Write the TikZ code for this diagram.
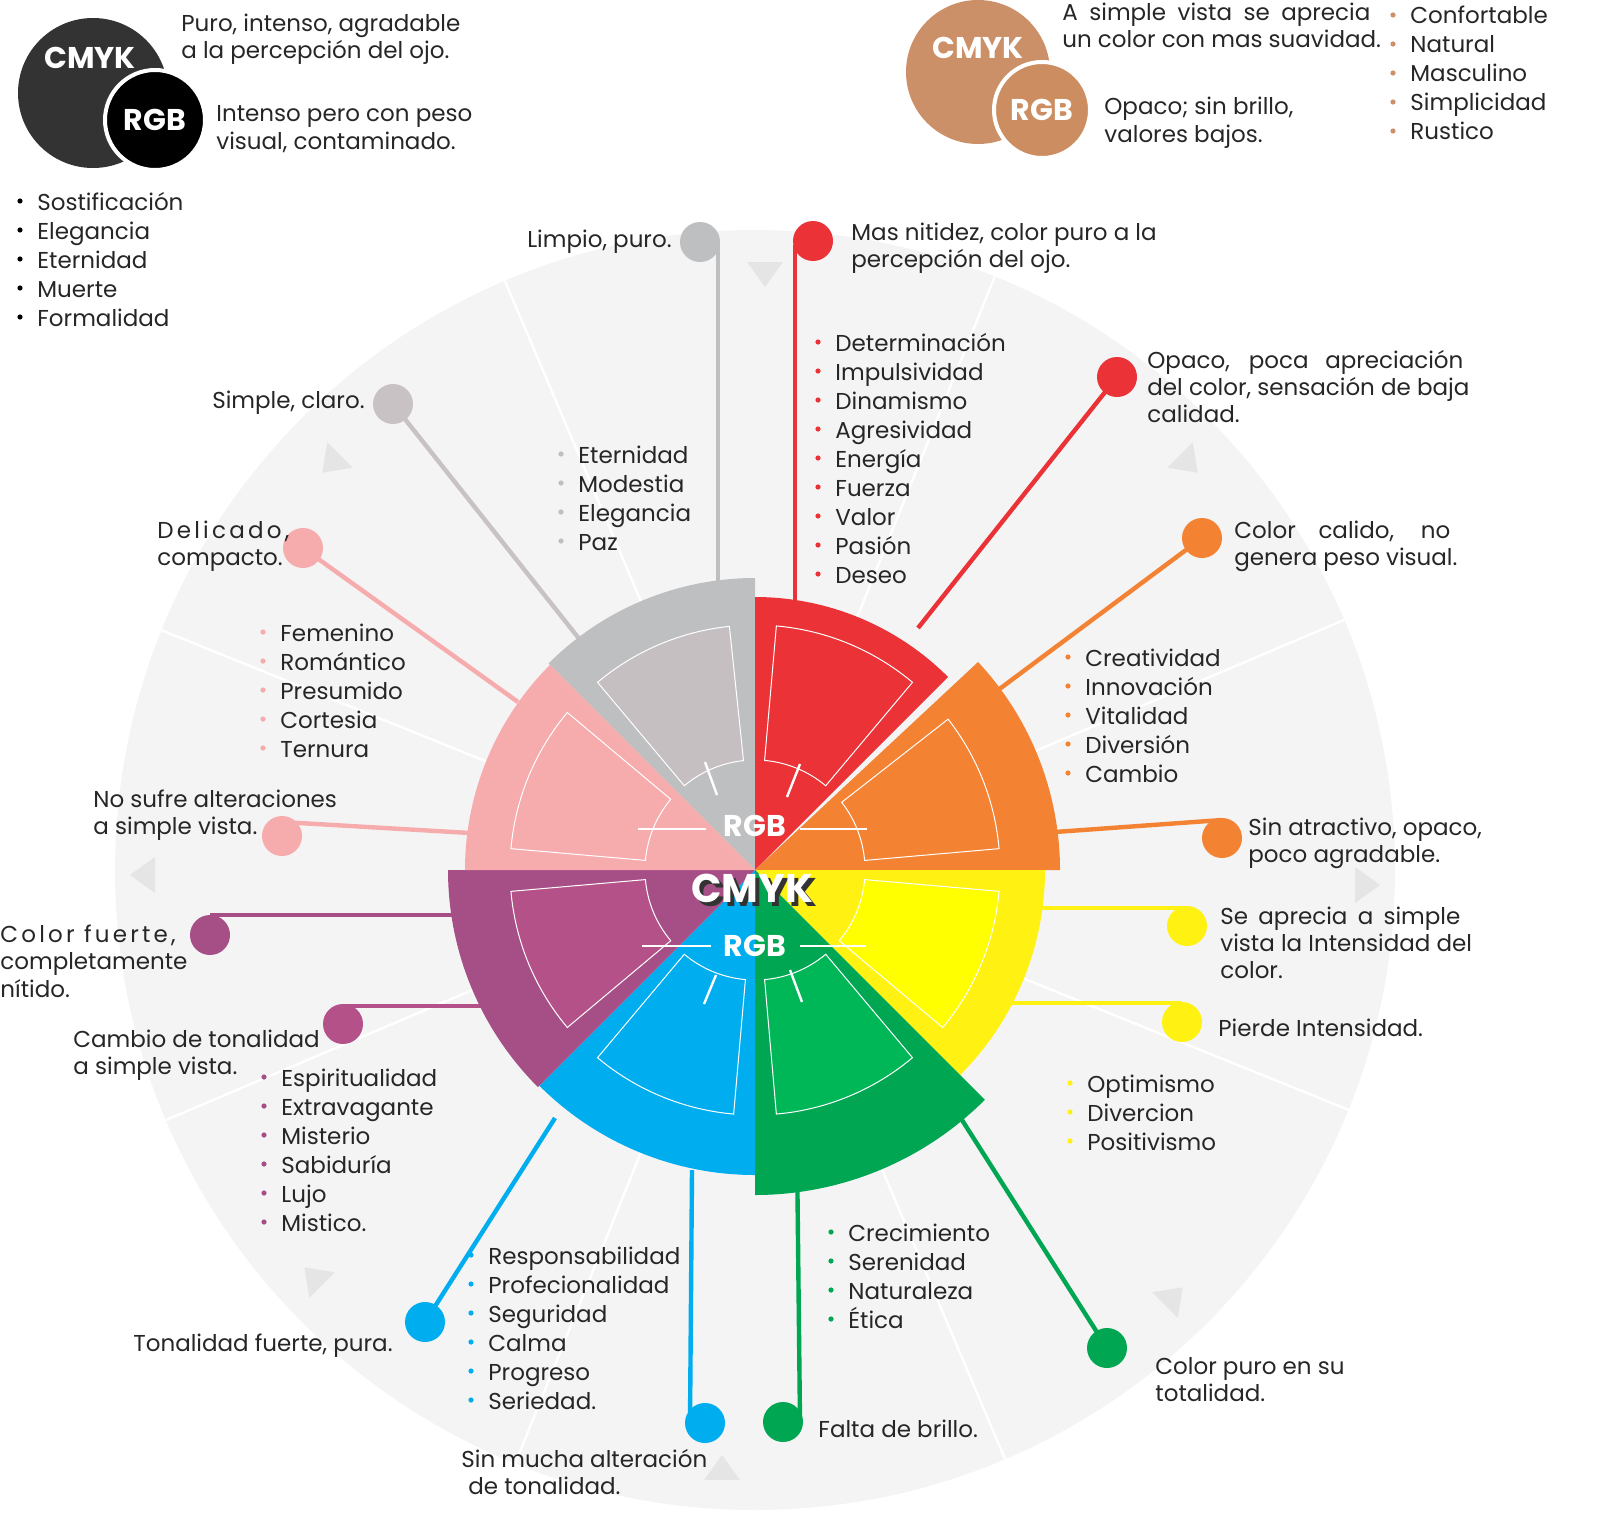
\documentclass[tikz,border=0pt]{standalone}
\usepackage{fontspec}
\setmainfont{Poppins}
\usetikzlibrary{calc}
\begin{document}
\begin{tikzpicture}[x=0.5pt,y=-0.5pt,
  txt/.style={anchor=base west,inner sep=0pt,font=\fontsize{11.5}{14}\selectfont,text=black!85},
  wlab/.style={font=\fontsize{15}{15}\bfseries\selectfont,text=white,inner sep=0pt},
  wline/.style={white,line width=1.2pt},
  ol/.style={draw=white,line width=0.5pt},
  lead/.style={line width=2.2pt}]
\definecolor{cgray}{HTML}{BEBFC1}\definecolor{cgrayi}{HTML}{C5BFC1}
\definecolor{cred}{HTML}{EA3237}\definecolor{cora}{HTML}{F38233}
\definecolor{cyel}{HTML}{FFF212}\definecolor{cyeli}{HTML}{FFFF00}
\definecolor{cgre}{HTML}{00A651}\definecolor{cgrei}{HTML}{00B757}
\definecolor{cblu}{HTML}{00AEEF}\definecolor{cpur}{HTML}{A64F87}
\definecolor{cpuri}{HTML}{B55189}\definecolor{cpin}{HTML}{F6ABAD}
\definecolor{cbro}{HTML}{CC9068}\definecolor{cgl}{HTML}{C8C2C4}
\definecolor{bg}{HTML}{F4F4F5}
\useasboundingbox (0,0) rectangle (1600,1525);
\coordinate (C) at (755,870);
% background disc
\fill[bg] (C) circle[radius=640];
\foreach \a in {0,45,...,315}{\draw[white,line width=1.2pt] (C) -- ++(\a+22:640);}
\foreach \p/\r in {{(765,262)}/0,{(340,455)}/-45,{(1180,455)}/45,{(155,875)}/-90,{(1355,885)}/90,{(322,1285)}/-135,{(1165,1305)}/135,{(722,1480)}/180}
  {\fill[black!10,rotate around={\r:\p}] \p ++(-18,0) -- ++(36,0) -- ++(-18,25) -- cycle;}
% leader lines
\newcommand\ldot[2]{\fill[#1] #2 circle[radius=20];}
\draw[lead,cgray] (718,242) -- (718,590);
\draw[lead,cgl] (393,404) -- (592,655);
\draw[lead,cred] (795,245) -- (795,600);
\draw[lead,cred] (1117,377) -- (918,628);
\draw[lead,cora] (1202,538) -- (978,705);
\draw[lead,cora] (1222,820) -- (1055,832);
\draw[lead,cyel] (1187,908) -- (1040,908);
\draw[lead,cyel] (1182,1003) -- (980,1003);
\draw[lead,cgre] (1107,1348) -- (948,1098);
\draw[lead,cgre] (800,1422) -- (797,1150);
\draw[lead,cblu] (690,1423) -- (692,1170);
\draw[lead,cblu] (425,1322) -- (555,1118);
\draw[lead,cpur] (210,915) -- (455,915);
\draw[lead,cpuri] (343,1006) -- (525,1006);
\draw[lead,cpin] (282,822) -- (470,833);
\draw[lead,cpin] (303,548) -- (518,702);
% wheel
\newcommand\sect[4]{\fill[#1] (C) -- ++(-#2:#4) arc[start angle=-#2,end angle=-#3,radius=#4] -- cycle;}
\newcommand\inr[3]{\path[ol,fill=#1] ($(C)+(-#2:110)$) -- ($(C)+(-#2:245)$) arc[start angle=-#2,end angle=-#3,radius=245] -- ($(C)+(-#3:110)$) arc[start angle=-#3,end angle=-#2,radius=110] -- cycle;}
\sect{cgray}{90}{135}{292}
\sect{cred}{45}{90}{273}
\sect{cora}{0}{43}{305}
\sect{cyel}{-45}{0}{290}
\sect{cgre}{-90}{-45}{325}
\sect{cblu}{-135}{-90}{305}
\sect{cpur}{-180}{-135}{307}
\sect{cpin}{135}{180}{290}
\inr{cgrayi}{96}{130}
\inr{cred}{50}{85}
\inr{cora}{5}{38}
\inr{cyeli}{-40}{-5}
\inr{cgrei}{-85}{-50}
\inr{cblu}{-130}{-95}
\inr{cpuri}{-175}{-140}
\inr{cpin}{140}{175}
\draw[wline] (787,797) -- (800,764);
\draw[wline] (717,795) -- (705,762);
\draw[wline] (716,975) -- (704,1004);
\draw[wline] (790,970) -- (802,1002);
\draw[wline] (638,829) -- (706,829); \draw[wline] (800,829) -- (867,829);
\draw[wline] (642,946) -- (711,946); \draw[wline] (800,946) -- (866,946);
\node[wlab] (rgb1) at (755,826) {RGB};
\node[wlab] (rgb2) at (755,946) {RGB};
\node[wlab,text=black!80,font=\fontsize{20}{20}\bfseries\selectfont] (cmyks) at (756,892) {CMYK};
\node[wlab,font=\fontsize{20}{20}\bfseries\selectfont] (cmyk) at (752,888) {CMYK};
% dots
\ldot{cgray}{(700,242)} \ldot{cgl}{(393,404)} \ldot{cred}{(813,241)} \ldot{cred}{(1117,377)}
\ldot{cora}{(1202,538)} \ldot{cora}{(1222,838)} \ldot{cyel}{(1187,926)} \ldot{cyel}{(1182,1022)}
\ldot{cgre}{(1107,1348)} \ldot{cgre}{(783,1422)} \ldot{cblu}{(705,1423)} \ldot{cblu}{(425,1322)}
\ldot{cpur}{(210,935)} \ldot{cpuri}{(343,1024)} \ldot{cpin}{(282,836)} \ldot{cpin}{(303,548)}
% lists
\newcommand\blist[4]{\foreach \t [count=\i from 0] in {#4}{\fill[#3] (#1-17,#2+29*\i) circle[radius=2.6]; \node[txt] at (#1,#2+29*\i+9) {\t};}}
\blist{835}{342}{cred}{Determinación,Impulsividad,Dinamismo,Agresividad,Energía,Fuerza,Valor,Pasión,Deseo}
\blist{1085}{657}{cora}{Creatividad,Innovación,Vitalidad,Diversión,Cambio}
\blist{1087}{1083}{cyel}{Optimismo,Divercion,Positivismo}
\blist{848}{1232}{cgre}{Crecimiento,Serenidad,Naturaleza,Ética}
\blist{488}{1255}{cblu}{Responsabilidad,Profecionalidad,Seguridad,Calma,Progreso,Seriedad.}
\blist{281}{1077}{cpur}{Espiritualidad,Extravagante,Misterio,Sabiduría,Lujo,Mistico.}
\blist{280}{632}{cpin}{Femenino,Romántico,Presumido,Cortesia,Ternura}
\blist{578}{454}{cgray}{Eternidad,Modestia,Elegancia,Paz}
\blist{37}{201}{black}{Sostificación,Elegancia,Eternidad,Muerte,Formalidad}
\blist{1410}{15}{cbro}{Confortable,Natural,Masculino,Simplicidad,Rustico}
% descriptions
\newcommand\tl[3]{\node[txt] at (#1,#2+9) {#3};}
\newcommand\tj[4]{\node[txt] at (#1,#2+9) {\makebox[#3pt][s]{#4}};}
\newcommand\tls[3]{\node[txt] at (#1,#2+9) {\addfontfeature{LetterSpace=14}#3};}
\node[txt,anchor=base east] (l1) at (672,247) {Limpio, puro.};
\tl{851}{231}{Mas nitidez, color puro a la} \tl{851}{258}{percepción del ojo.}
\tj{1147}{359}{158}{Opaco, poca apreciación} \tl{1147}{386}{del color, sensación de baja} \tl{1147}{413}{calidad.}
\tj{1234}{529}{108}{Color calido, no} \tl{1234}{556}{genera peso visual.}
\tl{1248}{826}{Sin atractivo, opaco,} \tl{1248}{853}{poco agradable.}
\tj{1220}{915}{120}{Se aprecia a simple} \tl{1220}{942}{vista la Intensidad del} \tl{1220}{969}{color.}
\tl{1218}{1027}{Pierde Intensidad.}
\tl{1155}{1365}{Color puro en su} \tl{1155}{1392}{totalidad.}
\tl{818}{1428}{Falta de brillo.}
\tl{461}{1458}{Sin mucha alteración} \tl{468}{1485}{de tonalidad.}
\node[txt,anchor=base east] (l2) at (393,1351) {Tonalidad fuerte, pura.};
\tl{73}{1038}{Cambio de tonalidad} \tl{73}{1065}{a simple vista.}
\tls{0}{933}{Color fuerte,} \tl{0}{960}{completamente} \tl{0}{988}{nítido.}
\tl{93}{798}{No sufre alteraciones} \tl{93}{825}{a simple vista.}
\tls{157}{529}{Delicado,} \tl{157}{556}{compacto.}
\node[txt,anchor=base east] (l3) at (365,408) {Simple, claro.};
% top-left legend
\fill[black!80] (93,93) circle[radius=75];
\filldraw[fill=black,draw=white,line width=2pt] (155,120) circle[radius=50];
\node[wlab] (k1) at (90,58) {CMYK};
\node[wlab] (r1) at (155,120) {RGB};
\tl{181}{23}{Puro, intenso, agradable} \tl{181}{50}{a la percepción del ojo.}
\tl{216}{113}{Intenso pero con peso} \tl{216}{140}{visual, contaminado.}
% top-right legend
\fill[cbro] (978,72) circle[radius=72];
\filldraw[fill={rgb,255:red,204;green,142;blue,97},draw=white,line width=2pt] (1042,110) circle[radius=48];
\node[wlab] (k2) at (978,48) {CMYK};
\node[wlab] (r2) at (1042,110) {RGB};
\tj{1062}{12}{154}{A simple vista se aprecia} \tl{1062}{39}{un color con mas suavidad.}
\tl{1104}{106}{Opaco; sin brillo,} \tl{1104}{133}{valores bajos.}
\end{tikzpicture}
\end{document}
